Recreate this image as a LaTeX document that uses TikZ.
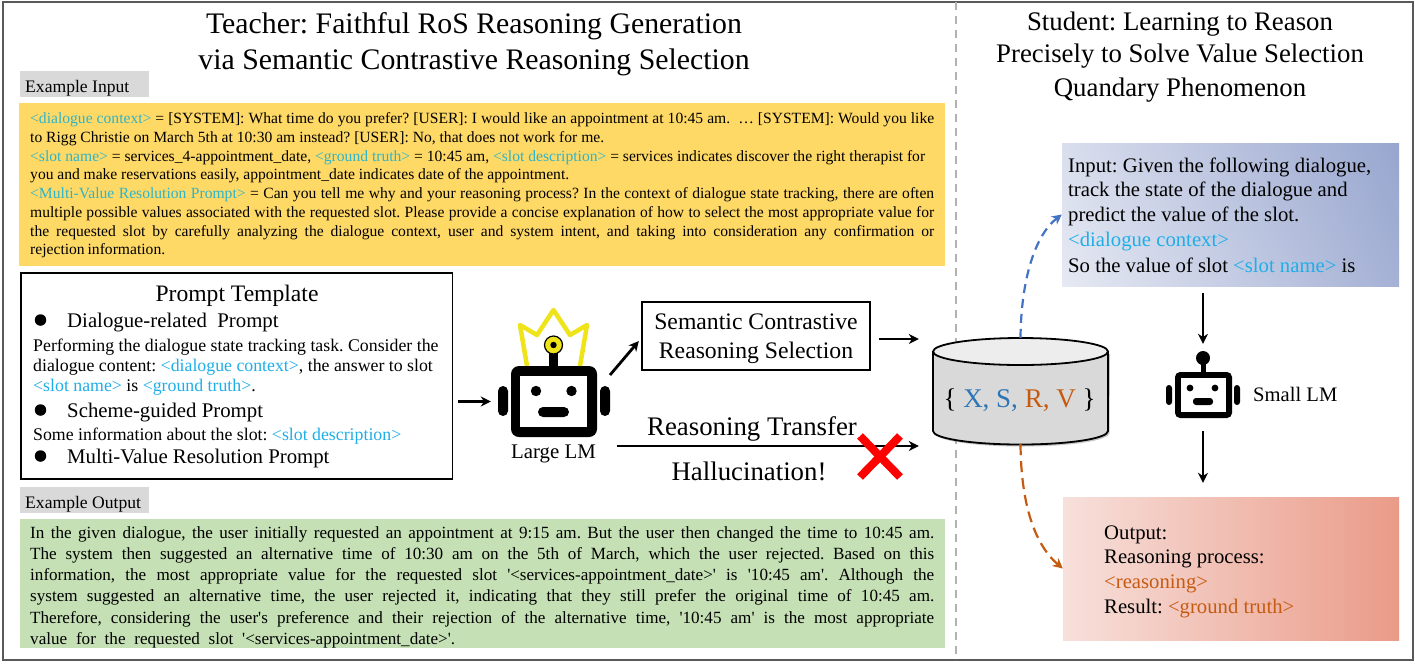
\documentclass[tikz,border=0pt]{standalone}
\usepackage{fontspec}
\setmainfont{Liberation Serif}
\usetikzlibrary{arrows.meta,shapes.geometric}
\definecolor{cyT}{HTML}{2FB4C8}
\definecolor{cyB}{HTML}{1FAEE8}
\definecolor{orT}{HTML}{C55A11}
\definecolor{blT}{HTML}{2E75B6}
\definecolor{dashB}{HTML}{4472C4}
\definecolor{yellowbox}{HTML}{FFD966}
\definecolor{greenbox}{HTML}{C5E0B4}
\definecolor{crown}{HTML}{EFE31A}
\definecolor{inA}{HTML}{E6E9F3}
\definecolor{inB}{HTML}{98A6CF}
\definecolor{outA}{HTML}{F7E0DB}
\definecolor{outB}{HTML}{EA9B88}
\pgfdeclareverticalshading{inputshade}{100bp}{color(0bp)=(inA); color(17bp)=(inA); color(83bp)=(inB); color(100bp)=(inB)}
\newcommand{\cya}[1]{\textcolor{cyT}{#1}}
\newcommand{\cyb}[1]{\textcolor{cyB}{#1}}
\newcommand{\ort}[1]{\textcolor{orT}{#1}}
\newcommand{\wl}[2]{\hbox to #1pt{\spaceskip=.25em plus 1em minus .2em\relax #2}\par}
\newcommand{\jl}[1]{\wl{904}{#1}}
\newcommand{\qq}{\textquotesingle}
\AtBeginDocument{\frenchspacing}
\tikzset{
  x=1pt,y=-1pt,
  flow/.style={-{Stealth[length=10pt,width=10pt]},line width=2.8pt,black},
  dashblue/.style={-{Stealth[length=10pt,width=10pt]},line width=2.2pt,color=dashB,dash pattern=on 9pt off 6pt},
  dashor/.style={-{Stealth[length=10pt,width=10pt]},line width=2.2pt,color=orT,dash pattern=on 11pt off 6pt},
  tagbox/.style={fill=black!15,minimum width=129pt,minimum height=26pt,inner sep=0pt},
  tagtext/.style={font=\fontsize{17.6}{20}\selectfont,anchor=base west,inner sep=0pt},
  para/.style={anchor=north west,inner sep=0pt,text width=904pt,font=\fontsize{15.6}{18.75}\selectfont},
  head/.style={anchor=base west,inner sep=0pt,font=\fontsize{20.8}{24}\selectfont},
  small/.style={anchor=base west,inner sep=0pt,font=\fontsize{17.8}{20}\selectfont},
  bul/.style={fill=black,circle,inner sep=0pt,minimum size=11.5pt},
  stu/.style={anchor=base west,inner sep=0pt,font=\fontsize{20.7}{24}\selectfont},
  ttlA/.style={anchor=base,inner sep=0pt,font=\fontsize{29.8}{34}\selectfont},
  ttlB/.style={anchor=base,inner sep=0pt,font=\fontsize{26.8}{31}\selectfont},
  semt/.style={anchor=base,inner sep=0pt,font=\fontsize{23.7}{29}\selectfont},
  anchorbox/.style={inner sep=0pt},
  big/.style={anchor=base,inner sep=0pt,font=\fontsize{26.8}{30}\selectfont},
}
\begin{document}
\begin{tikzpicture}
\useasboundingbox (0,0) rectangle (1415,665);
\fill[white] (0,0) rectangle (1415,665);
% frame and divider
\draw[black!65,line width=1.2pt] (3,2) rectangle (1413,660);
\draw[black!30,line width=1.6pt,dash pattern=on 8pt off 6pt] (956,2) -- (956,660);
% titles
\node[ttlA] (t1) at (474,33.5) {Teacher: Faithful RoS Reasoning Generation};
\node[ttlA] (t2) at (474,69) {via Semantic Contrastive Reasoning Selection};
\node[ttlB] (st1) at (1180,30.7) {Student: Learning to Reason};
\node[ttlB] (st2) at (1180,62.7) {Precisely to Solve Value Selection};
\node[ttlB] (st3) at (1180,96) {Quandary Phenomenon};
% example input
\node[tagbox] (exin) at (84.5,84) {};
\node[tagtext] (exinl) at (25,92.3) {Example Input};
\node[fill=yellowbox,minimum width=926pt,minimum height=163pt,inner sep=0pt] (yb) at (482,184.5) {};
\node[para] (ybt) at (30,112.5) {%
\jl{\cya{<dialogue context>} = [SYSTEM]: What time do you prefer? [USER]: I would like an appointment at 10:45 am.\ \ … [SYSTEM]: Would you like}
\wl{574}{to Rigg Christie on March 5th at 10:30 am instead? [USER]: No, that does not work for me.}
\wl{895}{\cya{<slot name>} = services\_4-appointment\_date, \cya{<ground truth>} = 10:45 am, \cya{<slot description>} = services indicates discover the right therapist for}
\wl{539}{you and make reservations easily, appointment\_date indicates date of the appointment.}
\jl{\cya{<Multi-Value Resolution Prompt>} = Can you tell me why and your reasoning process? In the context of dialogue state tracking, there are often}
\jl{multiple possible values associated with the requested slot. Please provide a concise explanation of how to select the most appropriate value for}
\jl{the requested slot by carefully analyzing the dialogue context, user and system intent, and taking into consideration any confirmation or}
\wl{135}{rejection information.}};
% prompt template
\node[draw=black,line width=1.2pt,minimum width=431.5pt,minimum height=206pt,inner sep=0pt] (prompt) at (236.7,376) {};
\node[anchor=base,inner sep=0pt,font=\fontsize{23.6}{28}\selectfont] (ptt) at (237,301) {Prompt Template};
\node[bul] (b1) at (40.5,320) {};
\node[head] (h1) at (67,327.7) {Dialogue-related\ \ Prompt};
\node[small] (s1) at (33,351) {Performing the dialogue state tracking task. Consider the};
\node[small] (s2) at (33,371.7) {dialogue content: \cyb{<dialogue context>}, the answer to slot};
\node[small] (s3) at (33,391.7) {\cyb{<slot name>} is \cyb{<ground truth>}.};
\node[bul] (b2) at (40.5,410) {};
\node[head] (h2) at (67,417) {Scheme-guided Prompt};
\node[small] (s4) at (33,440) {Some information about the slot: \cyb{<slot description>}};
\node[bul] (b3) at (40.5,456) {};
\node[head] (h3) at (67,463) {Multi-Value Resolution Prompt};
% example output
\node[tagbox] (exout) at (84.5,500) {};
\node[tagtext] (exoutl) at (25,508) {Example Output};
\node[fill=greenbox,minimum width=925pt,minimum height=129pt,inner sep=0pt] (gb) at (482.5,583.5) {};
\node[para,font=\fontsize{17.1}{21.3}\selectfont] (gbt) at (30,526) {%
\jl{In the given dialogue, the user initially requested an appointment at 9:15 am. But the user then changed the time to 10:45 am.}
\jl{The system then suggested an alternative time of 10:30 am on the 5th of March, which the user rejected. Based on this}
\jl{information, the most appropriate value for the requested slot \qq<services-appointment\_date>\qq\ is \qq 10:45 am\qq. Although the}
\jl{system suggested an alternative time, the user rejected it, indicating that they still prefer the original time of 10:45 am.}
\jl{Therefore, considering the user\qq s preference and their rejection of the alternative time, \qq 10:45 am\qq\ is the most appropriate}
\wl{425}{value for the requested slot \qq<services-appointment\_date>\qq.}};
% large robot
\draw[crown,line width=4.5pt,line join=round] (527,366) -- (520,325) -- (537,335) -- (553.5,310) -- (570,335) -- (587,325) -- (580,366);
\fill[black] (549,352) rectangle (558,367);
\draw[black,line width=1.2pt,fill=crown] (553.5,345) circle (9);
\fill[black] (553.5,345) circle (3.2);
\fill[black,rounded corners=8pt] (511,366) rectangle (597,437);
\fill[white] (520,376) rectangle (587,427);
\fill[black,rounded corners=5pt] (498,386) rectangle (508,416);
\fill[black,rounded corners=5pt] (600,386) rectangle (610,416);
\fill[black] (536,391) circle (5.2);
\fill[black] (571.5,391) circle (5.2);
\fill[black,rounded corners=5pt] (538,407) rectangle (569,417);
\node[anchorbox,minimum width=112pt,minimum height=71pt] (large) at (554,401.5) {};
\node[anchor=base,inner sep=0pt,font=\fontsize{20.8}{24}\selectfont] (largel) at (553.5,458) {Large LM};
% semantic box
\node[draw=black,line width=1.2pt,minimum width=228pt,minimum height=68pt,inner sep=0pt] (sem) at (756,336) {};
\node[semt] (sem1) at (756,329) {Semantic Contrastive};
\node[semt] (sem2) at (756,358) {Reasoning Selection};
% database
\fill[black!45,opacity=.5] (934.5,354) -- (934.5,433) arc[start angle=180,end angle=360,x radius=87.5,y radius=-13.5] -- (1110,354) -- cycle;
\draw[black,line width=1.8pt,fill=black!15] (933,351.5) -- (933,431) arc[start angle=180,end angle=360,x radius=87.5,y radius=-13.5] -- (1108,351.5);
\draw[black,line width=1.8pt,fill=black!7] (1020.5,351.5) ellipse[x radius=87.5,y radius=13.5];
\node[anchorbox,minimum width=175pt,minimum height=106pt] (db) at (1020.5,391) {};
\node[anchor=base,inner sep=0pt,font=\fontsize{27}{32}\selectfont] (dbt) at (1019.5,407) {\{ \textcolor{blT}{X, S,} \textcolor{orT}{R, V} \}};
% student boxes
\node[shade,shading=inputshade,shading angle=-65,minimum width=337pt,minimum height=143pt,inner sep=0pt] (input) at (1230.5,214.5) {};
\node[stu] (i1) at (1068,172.7) {Input: Given the following dialogue,};
\node[stu] (i2) at (1068,196.7) {track the state of the dialogue and};
\node[stu] (i3) at (1068,221.7) {predict the value of the slot.};
\node[stu] (i4) at (1068,246.7) {\cyb{<dialogue context>}};
\node[stu] (i5) at (1068,272.2) {So the value of slot \cyb{<slot name>} is};
\node[shade,shading=axis,left color=outA,right color=outB,minimum width=336pt,minimum height=143pt,inner sep=0pt] (output) at (1231,568.5) {};
\node[stu] (o1) at (1104,539) {Output:};
\node[stu] (o2) at (1104,563) {Reasoning process:};
\node[stu] (o3) at (1104,588) {\ort{<reasoning>}};
\node[stu] (o4) at (1104,613) {Result: \ort{<ground truth>}};
% small robot
\fill[black] (1203,358) circle (7);
\fill[black] (1200.5,358) rectangle (1205.5,373);
\fill[black,rounded corners=5pt] (1175,372) rectangle (1232,418);
\fill[white] (1181,378) rectangle (1226,412);
\fill[black,rounded corners=3pt] (1166,385) rectangle (1172,405);
\fill[black,rounded corners=3pt] (1234,385) rectangle (1240,405);
\fill[black] (1190,388) circle (3.4);
\fill[black] (1215,388) circle (3.4);
\fill[black,rounded corners=3pt] (1193,398) rectangle (1213,405);
\node[anchorbox,minimum width=74pt,minimum height=73pt] (small) at (1203,387.5) {};
\node[anchor=base west,inner sep=0pt,font=\fontsize{20.6}{24}\selectfont] (smalll) at (1253,401.7) {Small LM};
% connectors
\coordinate (rt) at (617,446);
\coordinate (lr) at (610,375);
\draw[flow,shorten <=5pt,shorten >=7pt] (prompt.east |- large.west) -- (large.west);
\draw[flow,shorten >=4pt] (lr) -- (sem.west |- 0,338);
\draw[flow,shorten <=8pt,shorten >=14pt] (sem.east |- 0,339) -- (db.west |- 0,339);
\draw[flow,shorten >=14pt] (rt) -- (rt -| db.west);
\draw[flow,shorten <=7pt,shorten >=7pt] (input.south -| small) -- (small.north);
\draw[flow,shorten <=7pt,shorten >=14pt] (small.south) -- (output.north -| small);
\draw[dashblue] (db.north) .. controls (1021,280) and (1035,235) .. (input.west);
\draw[dashor] (db.south) .. controls (1021,505) and (1035,545) .. (output.west);
% hallucination labels
\node[big] (rtl) at (752,435.5) {Reasoning Transfer};
\node[big] (hal) at (749,480.5) {Hallucination!};
\draw[red,line width=8pt] (860,436) -- (900,477);
\draw[red,line width=8pt] (900,436) -- (860,477);
\end{tikzpicture}
\end{document}
